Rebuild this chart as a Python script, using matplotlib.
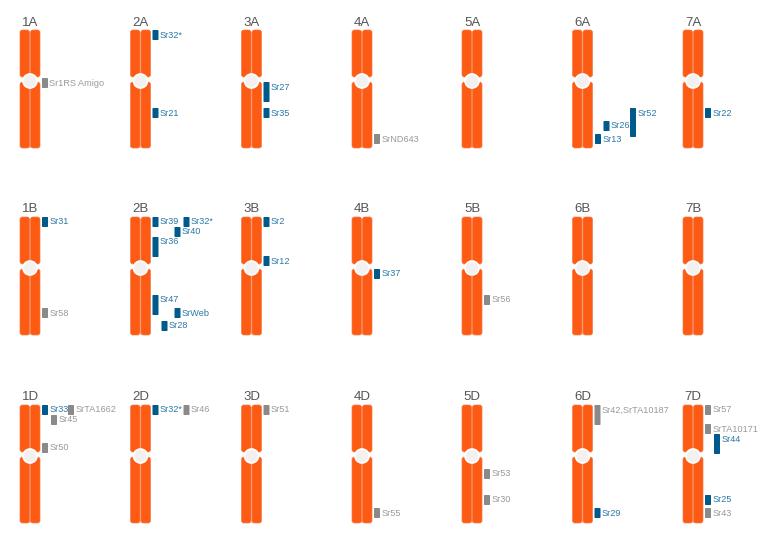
import matplotlib
matplotlib.use('Agg')
import matplotlib.pyplot as plt
from matplotlib.patches import FancyBboxPatch, Circle, Rectangle

plt.rcParams['font.family'] = ['Liberation Sans', 'DejaVu Sans']

chrom_names = [['1A', '2A', '3A', '4A', '5A', '6A', '7A'],
               ['1B', '2B', '3B', '4B', '5B', '6B', '7B'],
               ['1D', '2D', '3D', '4D', '5D', '6D', '7D']]
col_x = [20, 130.5, 241.5, 352, 462, 572.5, 683]
row_y = [30, 217, 405]

# gene, chromosome, start, length, offset from chromosome, known (blue) or not
genes = [
    ('Sr1RS Amigo', '1A', 48, 10, 22, False),
    ('Sr32*', '2A', 0, 10, 22, True),
    ('Sr21', '2A', 78, 10, 22, True),
    ('Sr27', '3A', 52, 20, 22, True),
    ('Sr35', '3A', 78, 10, 22, True),
    ('SrND643', '4A', 104, 10, 22, False),
    ('Sr13', '6A', 104, 10, 22.5, True),
    ('Sr26', '6A', 91, 10, 31, True),
    ('Sr52', '6A', 78, 29, 57.5, True),
    ('Sr22', '7A', 78, 10, 22, True),
    ('Sr31', '1B', 0, 10, 22, True),
    ('Sr58', '1B', 91, 10, 22, False),
    ('Sr39', '2B', 0, 10, 22, True),
    ('Sr32*', '2B', 0, 10, 53, True),
    ('Sr40', '2B', 10, 10, 44, True),
    ('Sr36', '2B', 20, 20, 22, True),
    ('Sr47', '2B', 78, 20, 22, True),
    ('SrWeb', '2B', 91, 10, 44, True),
    ('Sr28', '2B', 104, 10, 31, True),
    ('Sr2', '3B', 0, 10, 22, True),
    ('Sr12', '3B', 39, 10, 22, True),
    ('Sr37', '4B', 52, 10, 22, True),
    ('Sr56', '5B', 78, 10, 22, False),
    ('Sr33', '1D', 0, 10, 22, True),
    ('SrTA1662', '1D', 0, 10, 48, False),
    ('Sr45', '1D', 10, 10, 31, False),
    ('Sr50', '1D', 38, 10, 22, False),
    ('Sr32*', '2D', 0, 10, 22, True),
    ('Sr46', '2D', 0, 10, 53, False),
    ('Sr51', '3D', 0, 10, 22, False),
    ('Sr55', '4D', 103, 10, 22, False),
    ('Sr53', '5D', 64, 10, 22, False),
    ('Sr30', '5D', 90, 10, 22, False),
    ('Sr42,SrTA10187', '6D', 0, 20, 22, False),
    ('Sr29', '6D', 103, 10, 22, True),
    ('Sr57', '7D', 0, 10, 22, False),
    ('SrTA10171', '7D', 19, 10, 22, False),
    ('Sr44', '7D', 29, 20, 31, True),
    ('Sr25', '7D', 90, 10, 22, True),
    ('Sr43', '7D', 103, 10, 22, False),
]

orange = '#fd5a13'
edge = '#f47a45'
blue = '#005a8c'
grey = '#8a8a8a'
blue_text = '#2a78a6'
grey_text = '#999999'

fig = plt.figure(figsize=(7.68, 5.46), dpi=100)
ax = fig.add_axes([0, 0, 1, 1])
ax.set_xlim(0, 768)
ax.set_ylim(546, 0)
ax.axis('off')


def arm(x, y, w, h):
    ax.add_patch(FancyBboxPatch((x + 2.5, y + 2.5), w - 5, h - 5,
                                boxstyle='round,pad=2.5,rounding_size=2.5',
                                fc=orange, ec=edge, lw=0.5, zorder=2))


pos = {}
for r, names in enumerate(chrom_names):
    for c, name in enumerate(names):
        x, y = col_x[c], row_y[r]
        pos[name] = (x, y)
        # sister chromatids, short and long arm
        ax.add_patch(Rectangle((x + 9, y + 2), 2, 116, fc='#efcdbd', ec='none', zorder=1))
        for cx in (x, x + 10.5):
            arm(cx, y, 9.5, 47)
            arm(cx, y + 52, 9.5, 66)
        ax.add_patch(Circle((x + 10, y + 51), 7, fc='#f2f1f0', ec='white', lw=1.2, zorder=3))
        ax.text(x + 10.3, y - 1.5, name, ha='center', va='bottom', fontsize=9.5,
                color='#555555')

for gene, chrom, start, length, off, known in genes:
    x, y = pos[chrom]
    ax.add_patch(FancyBboxPatch((x + off + 0.5, y + start + 0.5), 5, length - 1,
                                boxstyle='round,pad=0.5,rounding_size=0.7',
                                fc=blue if known else grey, ec='none', zorder=4))
    ax.text(x + off + 7.3, y + start + 5, gene, ha='left', va='center', fontsize=6.6,
            color=blue_text if known else grey_text, zorder=5)

fig.savefig('out.png', dpi=100, facecolor='white')
